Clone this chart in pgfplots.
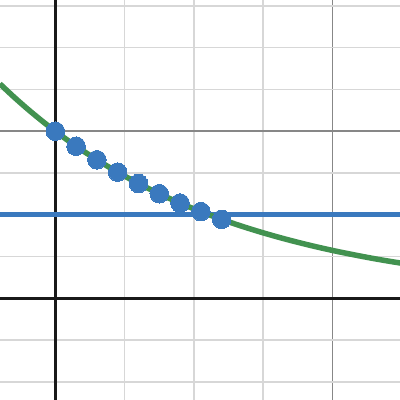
\documentclass[border=0pt]{standalone}
\usepackage{pgfplots}
\pgfplotsset{compat=1.18}
\definecolor{dblue}{RGB}{58,121,190}
\definecolor{dgreen}{RGB}{66,146,80}
\definecolor{mingrid}{RGB}{215,215,215}
\definecolor{majgrid}{RGB}{135,135,135}
\begin{document}
\begin{tikzpicture}
\begin{axis}[
  scale only axis, width=400pt, height=400pt,
  xmin=-0.798, xmax=4.974, ymin=-2.43, ymax=7.14,
  axis line style={draw=none},
  xtick={-4,0,4,8}, ytick={-4,0,4,8},
  minor tick num=3,
  xticklabels={}, yticklabels={},
  major tick length=0pt, minor tick length=0pt,
  grid=both,
  minor grid style={mingrid, line width=1.6pt},
  major grid style={majgrid, line width=1.8pt},
  extra x ticks={0}, extra y ticks={0},
  extra x tick labels={}, extra y tick labels={},
  extra tick style={grid=major, major grid style={black!90, line width=3pt}},
  clip=true,
]
\addplot[dblue, line width=5.2pt, no marks] coordinates {(-1,2) (6,2)};
\addplot[color=dblue, only marks, mark=*, mark size=9.3pt, mark options={draw=dblue, fill=dblue, line width=0pt}] coordinates {
(0,4) (0.3,3.642) (0.6,3.317) (0.9,3.021) (1.2,2.751) (1.5,2.505) (1.8,2.281) (2.1,2.077) (2.4,1.892)};
\addplot[dgreen, line width=5.5pt, no marks, smooth] coordinates {
(-0.8,5.134) (-0.6,4.824) (-0.4,4.532) (-0.2,4.258) (0,4) (0.2,3.758) (0.4,3.531) (0.6,3.317)
(0.8,3.117) (1.0,2.928) (1.2,2.751) (1.4,2.584) (1.6,2.428) (1.8,2.281) (2.0,2.143) (2.2,2.014)
(2.4,1.892) (2.6,1.777) (2.8,1.670) (3.0,1.569) (3.2,1.474) (3.4,1.385) (3.6,1.301) (3.8,1.222)
(4.0,1.148) (4.2,1.079) (4.4,1.014) (4.6,0.952) (4.8,0.895) (5.0,0.841)};
\end{axis}
\pgfresetboundingbox
\path (current axis.south west) rectangle (current axis.north east);
\end{tikzpicture}
\end{document}
